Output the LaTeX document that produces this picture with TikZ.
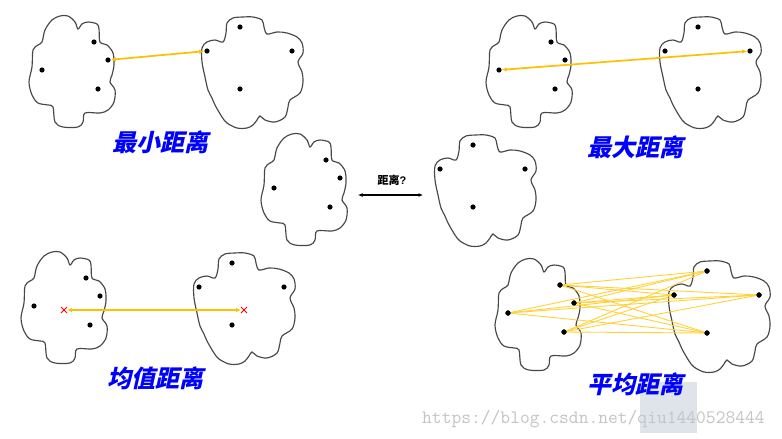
\documentclass[tikz,border=0pt]{standalone}
\usepackage{fontspec}
\usetikzlibrary{arrows.meta,shapes.misc}
\newfontfamily\lblfont{Noto Sans CJK SC}[FakeSlant=0.22]
\newfontfamily\cjk{Noto Sans CJK SC}
\definecolor{arrowyel}{HTML}{FFC000}
\definecolor{lineyel}{HTML}{FFD23C}
\definecolor{lblblue}{HTML}{0000FF}
\definecolor{wmgray}{HTML}{C4C4C4}
\definecolor{boxgray}{HTML}{DFE3EA}
\tikzset{
  blob/.style={draw=black!72, line width=1.15pt},
  dot/.style={circle, fill=black, inner sep=0pt, minimum size=5.2pt},
  yelarrow/.style={draw=arrowyel, line width=1.7pt, {Latex[length=5pt,width=4.5pt]}-{Latex[length=5pt,width=4.5pt]}},
  blkarrow/.style={draw=black, line width=1.3pt, {Latex[length=4.5pt,width=4pt]}-{Latex[length=4.5pt,width=4pt]}},
  allline/.style={draw=lineyel, line width=0.9pt},
  xmark/.style={cross out, draw=red, line width=0.9pt, minimum size=5pt, inner sep=0pt},
  lbl/.style={text=lblblue, font=\lblfont\bfseries\fontsize{24}{24}\selectfont, inner sep=0pt},
  qlbl/.style={font=\cjk\bfseries\fontsize{11}{11}\selectfont, inner sep=0pt},
  wm/.style={text=wmgray, font=\ttfamily\fontsize{19}{19}\selectfont, inner sep=0pt}
}
\newcommand\leftblob[1]{%
  \draw[blob] plot[smooth cycle, tension=0.55] coordinates {(52,20) (60,16) (68,16) (75,22) (78,29) (82,24) (88,22) (97,24) (99,29) (100,42) (107,45) (113,53) (114,65) (112,75) (110,82) (115,90) (114,102) (108,110) (100,113) (85,113) (83,122) (78,127) (63,127) (55,122) (53,107) (48,105) (38,103) (32,95) (29,82) (32,67) (33,50) (38,45) (42,42) (45,30)};
  \node[dot] (#1-1) at (94,42) {};
  \node[dot] (#1-2) at (108,60) {};
  \node[dot] (#1-3) at (42,70) {};
  \node[dot] (#1-4) at (98,89) {};
}
\newcommand\rightblob[1]{%
  \draw[blob] plot[smooth cycle, tension=0.55] coordinates {(227,23) (233,18) (243,17) (253,17) (262,20) (264,27) (267,34) (277,32) (287,33) (297,37) (302,43) (303,53) (298,62) (302,72) (303,82) (300,93) (290,100) (288,107) (285,117) (275,122) (265,120) (260,116) (257,120) (253,125) (247,128) (237,128) (227,123) (222,117) (215,105) (212,98) (208,90) (205,77) (202,62) (202,48) (207,42) (215,40) (223,42) (226,33)};
  \node[dot] (#1-1) at (240,27) {};
  \node[dot] (#1-2) at (207,51) {};
  \node[dot] (#1-3) at (292,51) {};
  \node[dot] (#1-4) at (240,89) {};
}
\begin{document}
\begin{tikzpicture}[x=1pt,y=-1pt]
\useasboundingbox (0,0) rectangle (782,439);
\fill[white] (0,0) rectangle (782,439);
% grey box behind the last label and the watermark
\fill[boxgray] (640,382) rectangle (697,433);
% top-left: minimum distance
\begin{scope}\leftblob{A}\end{scope}
\begin{scope}\rightblob{B}\end{scope}
\draw[yelarrow] (A-2) -- (B-2);
\node[lbl] (lmin) at (160,142) {最小距离};
% top-right: maximum distance
\begin{scope}[shift={(457,0)}]\leftblob{C}\end{scope}
\begin{scope}[shift={(458,0)}]\rightblob{D}\end{scope}
\draw[yelarrow] (C-3) -- (D-3);
\node[lbl] (lmax) at (635,147) {最大距离};
% centre: distance?
\begin{scope}[shift={(232,118)}]\leftblob{E}\end{scope}
\begin{scope}[shift={(233,118)}]\rightblob{F}\end{scope}
\coordinate (cl) at (358,195);
\coordinate (cr) at (423,195);
\draw[blkarrow] (cl) -- (cr);
\node[qlbl] (q) at (392,180) {距离\fontspec{Liberation Sans}\bfseries ?};
% bottom-left: mean distance
\begin{scope}[shift={(-8,236)}]\leftblob{G}\end{scope}
\begin{scope}[shift={(-8,236)}]\rightblob{H}\end{scope}
\node[xmark] (gx) at (64,310) {};
\node[xmark] (hx) at (244,310) {};
\draw[yelarrow] (gx) -- (hx);
\node[lbl] (lmean) at (155,378) {均值距离};
% bottom-right: average distance
\begin{scope}[shift={(466,243)}]\leftblob{I}\end{scope}
\begin{scope}[shift={(467,244)}]\rightblob{J}\end{scope}
\foreach \i in {1,...,4}{\foreach \j in {1,...,4}{\draw[allline] (I-\i) -- (J-\j);}}
\foreach \i in {1,...,4}{\fill (I-\i) circle (2.6pt); \fill (J-\i) circle (2.6pt);}
\node[lbl] (lavg) at (635,384) {平均距离};
% watermark
\node[wm, anchor=base west] (wmk) at (422,423) {https://blog.csdn.net/qiu1440528444};
\end{tikzpicture}
\end{document}
